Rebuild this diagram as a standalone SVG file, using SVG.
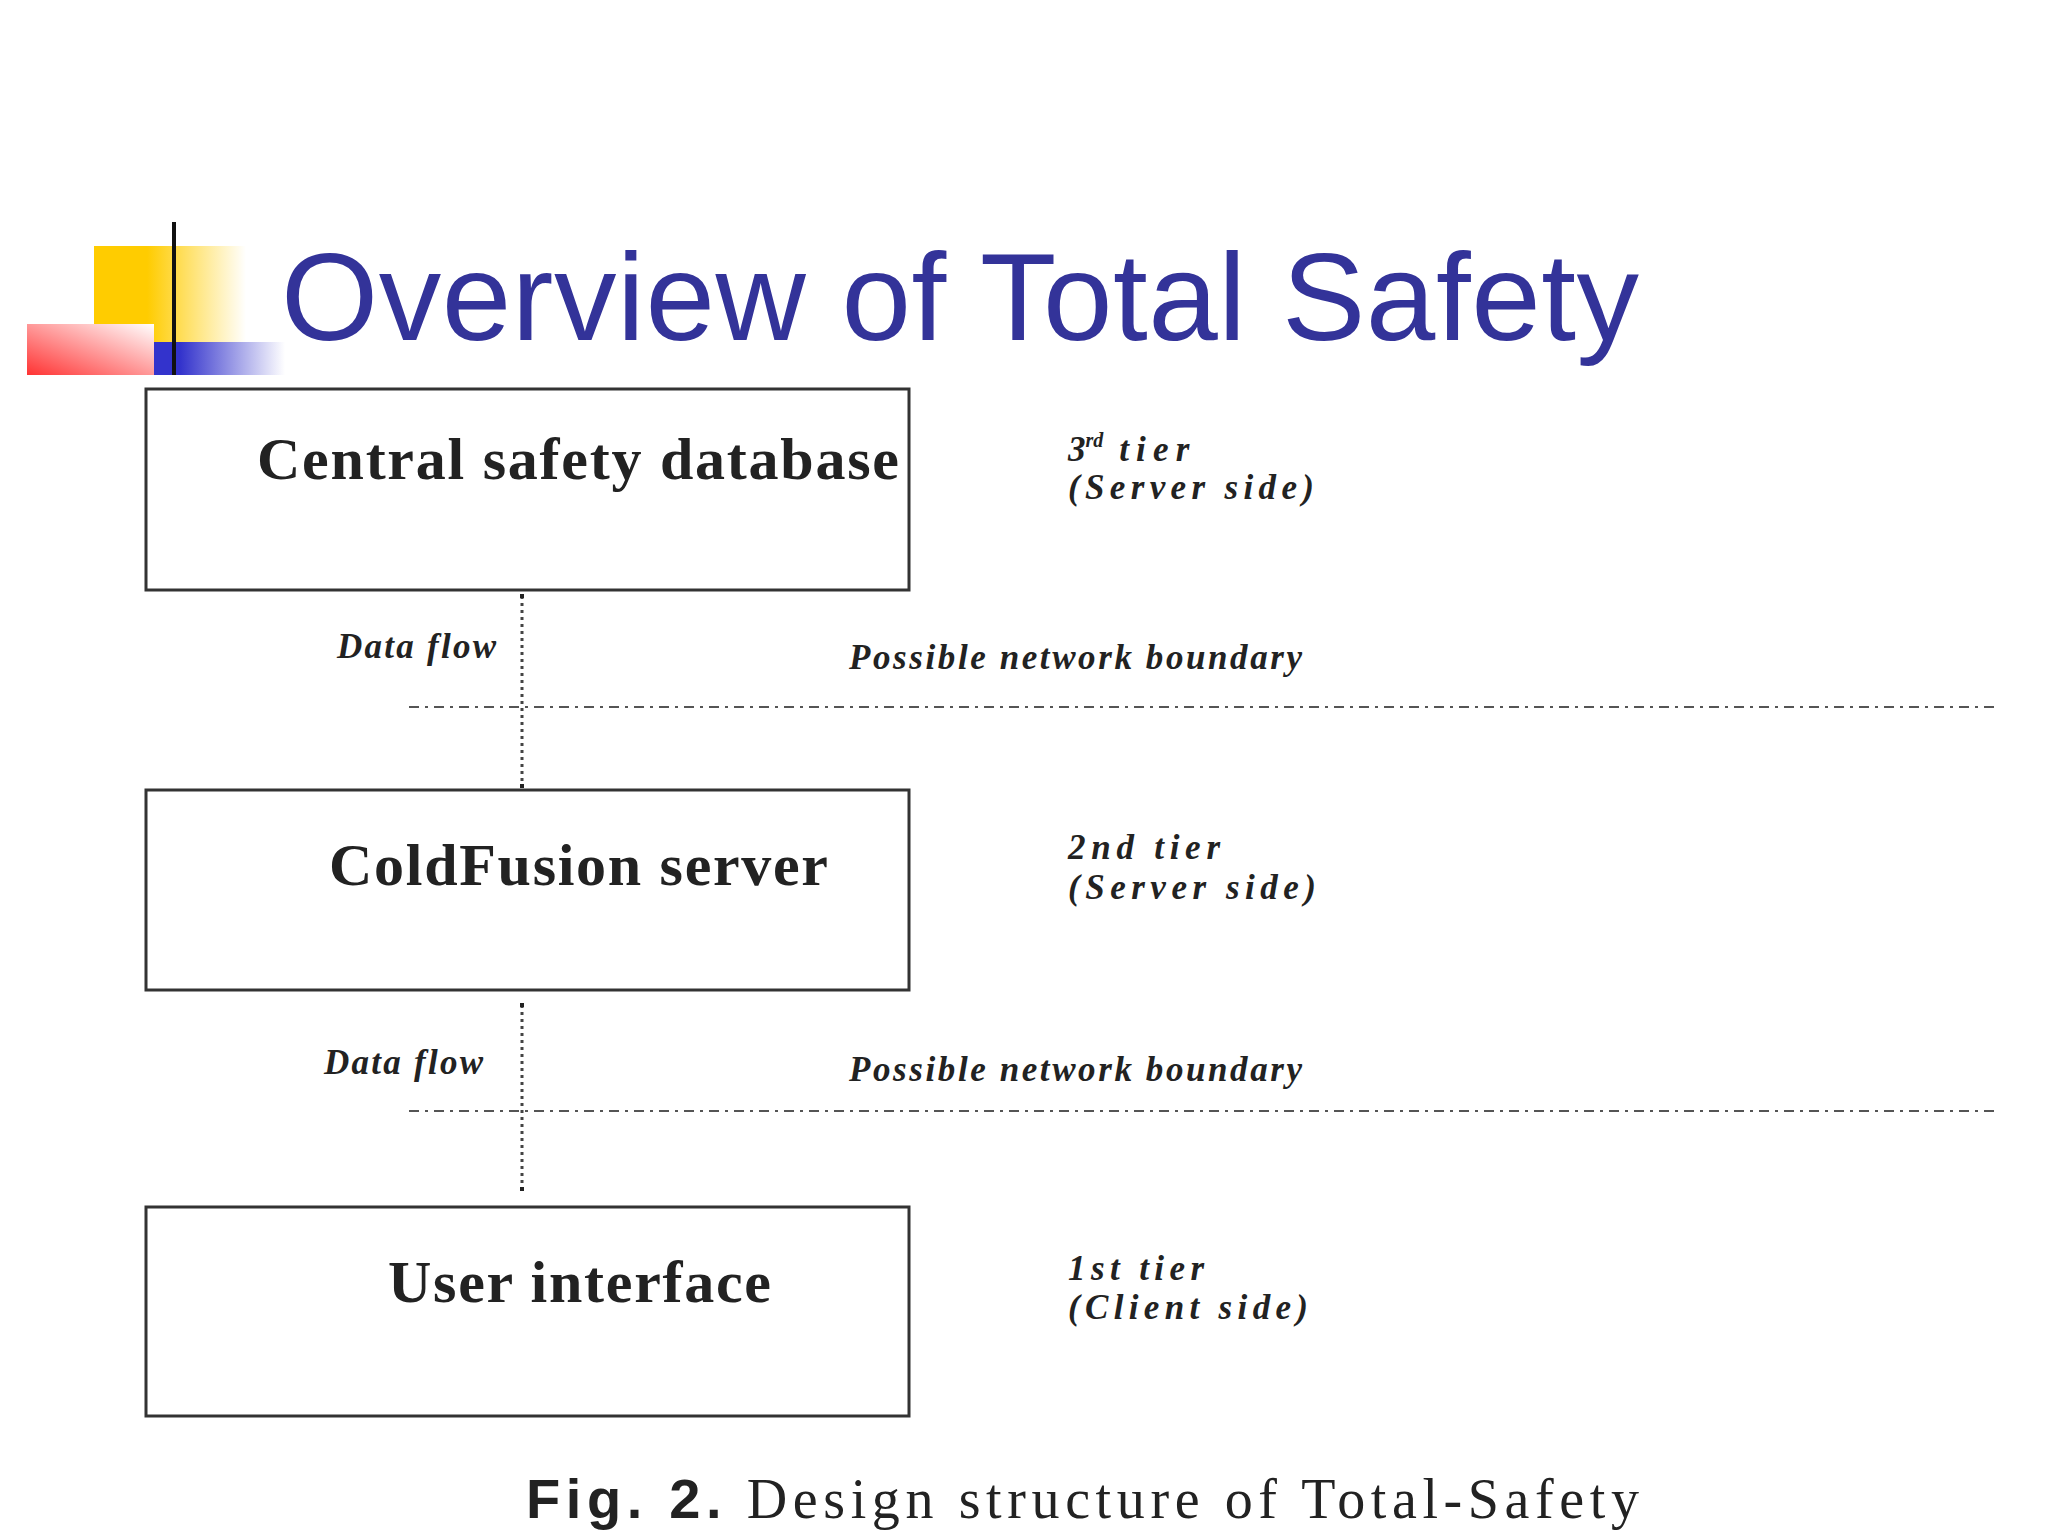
<svg xmlns="http://www.w3.org/2000/svg" width="2048" height="1536" viewBox="0 0 2048 1536">
<defs>
<linearGradient id="gy" x1="0" y1="0" x2="1" y2="0"><stop offset="0.35" stop-color="#ffcc00"/><stop offset="1" stop-color="#ffffff"/></linearGradient>
<linearGradient id="gr" x1="0" y1="1" x2="1" y2="0"><stop offset="0" stop-color="#ff3333"/><stop offset="1" stop-color="#ffffff"/></linearGradient>
<linearGradient id="gb" x1="0" y1="0" x2="1" y2="0"><stop offset="0.2" stop-color="#3333cc"/><stop offset="1" stop-color="#ffffff"/></linearGradient>
<marker id="dot" markerWidth="4" markerHeight="4" refX="2" refY="2" markerUnits="userSpaceOnUse"><rect width="4" height="4" fill="#222"/></marker>
<style>
.box{fill:#fff;stroke:#333;stroke-width:3}
.bt{font-family:"Liberation Serif",serif;font-weight:bold;font-size:60px;fill:#222}
.it{font-family:"Liberation Serif",serif;font-style:italic;font-weight:bold;font-size:35px;fill:#222}
.dash{stroke:#555;stroke-width:2;stroke-dasharray:10,6,3,6;fill:none}
.conn{stroke:#444;stroke-width:3;stroke-dasharray:3,4;fill:none}
</style>
</defs>
<rect width="2048" height="1536" fill="#fff"/>
<g id="decor">
<rect x="94" y="246" width="152" height="129" fill="url(#gy)"/>
<rect x="27" y="324" width="127" height="51" fill="url(#gr)"/>
<rect x="154" y="342" width="131" height="33" fill="url(#gb)"/>
<rect x="172" y="222" width="4" height="153" fill="#111"/>
</g>
<text x="281" y="340" font-family="Liberation Sans,Arial,sans-serif" font-size="125" fill="#333399" textLength="1358">Overview of Total Safety</text>
<g id="connectors">
<line class="conn" x1="522" y1="596" x2="522" y2="786" marker-start="url(#dot)" marker-end="url(#dot)"/>
<line class="conn" x1="522" y1="1005" x2="522" y2="1189" marker-start="url(#dot)" marker-end="url(#dot)"/>
<line class="dash" x1="409" y1="707" x2="1998" y2="707"/>
<line class="dash" x1="409" y1="1111" x2="1998" y2="1111"/>
</g>
<g id="db"><rect class="box" x="146" y="389" width="763" height="201"/><text class="bt" x="257" y="479" textLength="642">Central safety database</text></g>
<g id="cf"><rect class="box" x="146" y="790" width="763" height="200"/><text class="bt" x="329" y="885" textLength="499">ColdFusion server</text></g>
<g id="ui"><rect class="box" x="146" y="1207" width="763" height="209"/><text class="bt" x="388" y="1302" textLength="383">User interface</text></g>
<g id="labels">
<text class="it" x="1068" y="461">3<tspan font-size="20" dy="-14">rd</tspan><tspan dy="14" textLength="86"> tier</tspan></text>
<text class="it" x="1068" y="499" textLength="246">(Server side)</text>
<text class="it" x="1068" y="859" textLength="152">2nd tier</text>
<text class="it" x="1068" y="899" textLength="248">(Server side)</text>
<text class="it" x="1068" y="1280" textLength="136">1st tier</text>
<text class="it" x="1068" y="1319" textLength="240">(Client side)</text>
<text class="it" x="337" y="658" textLength="159">Data flow</text>
<text class="it" x="324" y="1074" textLength="159">Data flow</text>
<text class="it" x="849" y="669" textLength="453">Possible network boundary</text>
<text class="it" x="849" y="1081" textLength="453">Possible network boundary</text>
</g>
<text x="526" y="1518" font-family="Liberation Serif,serif" font-size="56" fill="#222" textLength="1113"><tspan font-family="Liberation Sans,sans-serif" font-weight="bold">Fig. 2.</tspan> Design structure of Total-Safety</text>
</svg>
